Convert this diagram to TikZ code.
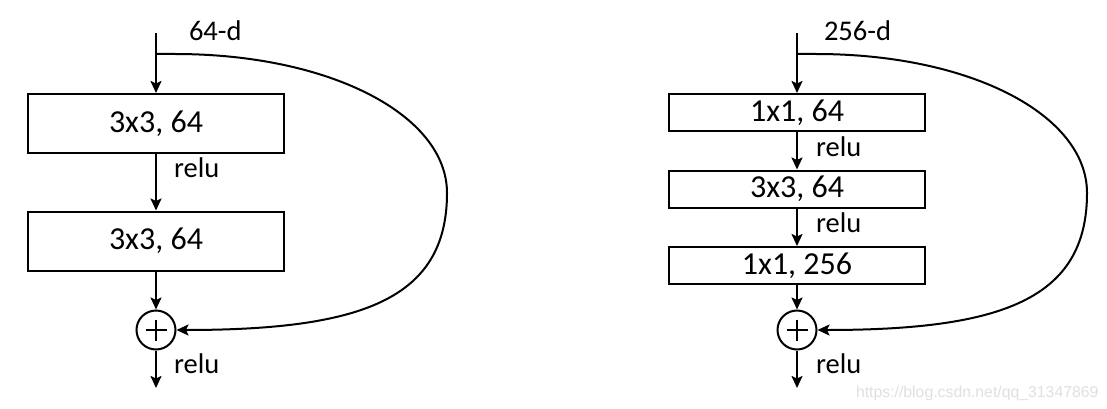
\documentclass[tikz,border=0pt]{standalone}
\usepackage{fontspec}
\setmainfont{Carlito}
\newfontfamily\wmfont{Liberation Sans}
\usetikzlibrary{arrows.meta}
\begin{document}
\begin{tikzpicture}[x=1pt,y=-1pt,
  line width=2pt,
  arr/.style={-{Stealth[length=12pt,width=11pt,inset=2.5pt]}},
  convbox/.style={draw,rectangle,minimum width=256pt,inner sep=0pt,font=\fontsize{32pt}{34pt}\selectfont},
  tallbox/.style={convbox,minimum height=59pt},
  flatbox/.style={convbox,minimum height=37pt},
  sumnode/.style={draw,circle,minimum size=39pt,inner sep=0pt},
  lbl/.style={anchor=west,inner sep=0pt,font=\fontsize{28.5pt}{30pt}\selectfont}]
\useasboundingbox (0,0) rectangle (1107,409);
\fill[white] (0,0) rectangle (1107,409);

% ---------- left block ----------
\coordinate (inL) at (156,33);
\coordinate (brL) at (156,54);
\node[tallbox] (aL) at (156,123.5) {3x3, 64};
\node[tallbox] (bL) at (156,241) {3x3, 64};
\node[sumnode] (sL) at (156,330) {};
\coordinate (outL) at (156,388);
\node[lbl] (dL) at (188,31) {64-d};
\node[lbl] (r1L) at (173,168) {relu};
\node[lbl] (r2L) at (173,364) {relu};
\draw[arr] (inL) -- (aL.north);
\draw[arr] (aL.south) -- (bL.north);
\draw[arr] (bL.south) -- (sL.north);
\draw[arr] (sL.south) -- (outL);
\draw (sL.center) +(-10.5pt,0) -- +(10.5pt,0);
\draw (sL.center) +(0,-10.5pt) -- +(0,10.5pt);
\draw[arr] (brL) -- (175,54) .. controls (330,54) and (447,115) .. (447,193)
  .. controls (447,300) and (360,330) .. (sL.east);

% ---------- right block ----------
\coordinate (inR) at (797,33);
\coordinate (brR) at (797,54);
\node[flatbox] (aR) at (797,112.5) {1x1, 64};
\node[flatbox] (bR) at (797,189) {3x3, 64};
\node[flatbox] (cR) at (797,265.5) {1x1, 256};
\node[sumnode] (sR) at (797,330) {};
\coordinate (outR) at (797,388);
\node[lbl] (dR) at (823,31) {256-d};
\node[lbl] (r1R) at (815,147) {relu};
\node[lbl] (r2R) at (815,223) {relu};
\node[lbl] (r3R) at (815,364) {relu};
\draw[arr] (inR) -- (aR.north);
\draw[arr] (aR.south) -- (bR.north);
\draw[arr] (bR.south) -- (cR.north);
\draw[arr] (cR.south) -- (sR.north);
\draw[arr] (sR.south) -- (outR);
\draw (sR.center) +(-10.5pt,0) -- +(10.5pt,0);
\draw (sR.center) +(0,-10.5pt) -- +(0,10.5pt);
\draw[arr] (brR) -- (816,54) .. controls (971,54) and (1087,115) .. (1087,193)
  .. controls (1087,300) and (1000,330) .. (sR.east);

% watermark
\node[anchor=base west,inner sep=0pt,text=black!12,font=\wmfont\fontsize{15.8pt}{17pt}\selectfont] (wm) at (855,397) {https://blog.csdn.net/qq\_31347869};
\end{tikzpicture}
\end{document}
